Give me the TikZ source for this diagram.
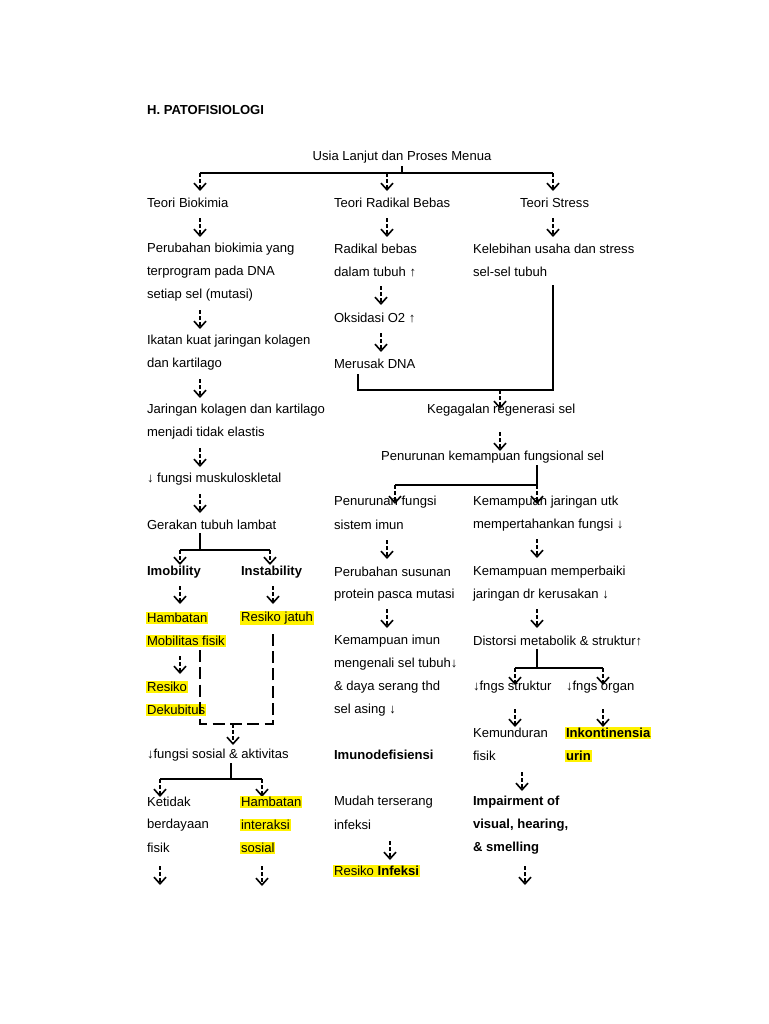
\documentclass[tikz,border=0pt]{standalone}
\usepackage{fontspec}
\setmainfont{Liberation Sans}
\usetikzlibrary{arrows.meta}
\begin{document}
\begin{tikzpicture}[x=0.75pt,y=-0.75pt,
  t/.style={anchor=west,inner sep=0.6pt,font=\fontsize{9.8}{12}\selectfont},
  hl/.style={t,fill=yellow},
  b/.style={t,font=\fontsize{9.8}{12}\selectfont\bfseries},
  bhl/.style={b,fill=yellow},
  ln/.style={line width=1.6pt},
  dl/.style={line width=1.6pt,dash pattern=on 9pt off 4pt},
  ar/.style={line width=1.6pt,dash pattern=on 3pt off 1.5pt,-{Straight Barb[length=5pt,width=9pt,line width=1.2pt]}}]
\useasboundingbox (0,0) rectangle (768,1024);
\fill[white] (0,0) rectangle (768,1024);
\newcommand\arr[4]{\coordinate (#1a) at (#2,#3); \coordinate (#1b) at (#2,#4); \draw[ar] (#1a) -- (#1b);}
\node[b] (h) at (146,110) {H. PATOFISIOLOGI};
\node[t,anchor=center] (usia) at (402,157) {Usia Lanjut dan Proses Menua};
\coordinate (u0) at (402,166); \coordinate (u1) at (402,173);
\coordinate (ul) at (200,173); \coordinate (ur) at (553,173);
\draw[ln] (u0)--(u1); \draw[ln] (ul)--(ur);
\arr{a1}{200}{173}{191} \arr{a2}{387}{173}{191} \arr{a3}{553}{173}{191}
\node[t] (tb) at (146,203) {Teori Biokimia};
\node[t] (tr) at (333,203) {Teori Radikal Bebas};
\node[t] (ts) at (519,203) {Teori Stress};
\arr{a4}{200}{218}{237} \arr{a5}{387}{218}{237} \arr{a6}{553}{218}{237}
% column 1
\node[t] (c1a) at (146,249) {Perubahan biokimia yang};
\node[t] (c1b) at (146,272) {terprogram pada DNA};
\node[t] (c1c) at (146,295) {setiap sel (mutasi)};
\arr{a7}{200}{310}{329}
\node[t] (c1d) at (146,341) {Ikatan kuat jaringan kolagen};
\node[t] (c1e) at (146,364) {dan kartilago};
\arr{a8}{200}{379}{398}
\node[t] (c1f) at (146,410) {Jaringan kolagen dan kartilago};
\node[t] (c1g) at (146,433) {menjadi tidak elastis};
\arr{a9}{200}{448}{467}
\node[t] (c1h) at (146,479) {↓ fungsi muskuloskletal};
\arr{a10}{200}{494}{513}
\node[t] (c1i) at (146,525) {Gerakan tubuh lambat};
\coordinate (g0) at (200,533); \coordinate (g1) at (200,550);
\coordinate (gl) at (180,550); \coordinate (gr) at (270,550);
\draw[ln] (g0)--(g1); \draw[ln] (gl)--(gr);
\arr{a11}{180}{550}{565} \arr{a12}{270}{550}{565}
\node[b] (imo) at (146,572) {Imobility};
\node[b] (ins) at (240,572) {Instability};
\arr{a13}{180}{586}{604} \arr{a14}{273}{586}{604}
\node[hl] (hm1) at (146,618) {Hambatan};
\node[hl] (hm2) at (146,641) {Mobilitas fisik};
\node[hl] (rj) at (240,618) {Resiko jatuh};
\arr{a15}{180}{656}{674}
\node[hl] (rd1) at (146,687) {Resiko};
\node[hl] (rd2) at (146,710) {Dekubitus};
\coordinate (d1) at (200,650); \coordinate (d2) at (200,724);
\coordinate (d3) at (273,724); \coordinate (d4) at (273,633);
\draw[dl] (d1)--(d2)--(d3)--(d4);
\arr{a16}{233}{724}{745}
\node[t] (fs) at (146,755) {↓fungsi sosial \& aktivitas};
\coordinate (f0) at (231,763); \coordinate (f1) at (231,779);
\coordinate (fl) at (160,779); \coordinate (fr) at (262,779);
\draw[ln] (f0)--(f1); \draw[ln] (fl)--(fr);
\arr{a17}{160}{779}{797} \arr{a18}{262}{779}{797}
\node[t] (k1) at (146,802) {Ketidak};
\node[t] (k2) at (146,825) {berdayaan};
\node[t] (k3) at (146,848) {fisik};
\node[hl] (hi1) at (240,802) {Hambatan};
\node[hl] (hi2) at (240,825) {interaksi};
\node[hl] (hi3) at (240,848) {sosial};
\arr{a19}{160}{866}{885} \arr{a20}{262}{866}{886}
% column 2
\node[t] (c2a) at (333,249) {Radikal bebas};
\node[t] (c2b) at (333,272) {dalam tubuh ↑};
\arr{a21}{381}{286}{305}
\node[t] (c2c) at (333,318) {Oksidasi O2 ↑};
\arr{a22}{381}{333}{352}
\node[t] (c2d) at (333,364) {Merusak DNA};
\coordinate (m0) at (358,374); \coordinate (m1) at (358,390);
\coordinate (m2) at (553,390); \coordinate (m3) at (553,285);
\draw[ln] (m0)--(m1)--(m2)--(m3);
\arr{a23}{500}{390}{409}
\node[t] (kg) at (426,410) {Kegagalan regenerasi sel};
\arr{a24}{500}{432}{451}
\node[t] (pk) at (380,457) {Penurunan kemampuan fungsional sel};
\coordinate (p0) at (537,465); \coordinate (p1) at (537,485);
\coordinate (pl) at (395,485);
\draw[ln] (p0)--(p1)--(pl);
\arr{a25}{395}{485}{504} \arr{a26}{537}{485}{504}
\node[t] (c2e) at (333,502) {Penurunan fungsi};
\node[t] (c2f) at (333,525) {sistem imun};
\arr{a27}{387}{540}{559}
\node[t] (c2g) at (333,572) {Perubahan susunan};
\node[t] (c2h) at (333,595) {protein pasca mutasi};
\arr{a28}{387}{609}{628}
\node[t] (c2i) at (333,641) {Kemampuan imun};
\node[t] (c2j) at (333,664) {mengenali sel tubuh↓};
\node[t] (c2k) at (333,687) {\& daya serang thd};
\node[t] (c2l) at (333,710) {sel asing ↓};
\node[b] (imu) at (333,755) {Imunodefisiensi};
\node[t] (c2m) at (333,802) {Mudah terserang};
\node[t] (c2n) at (333,825) {infeksi};
\arr{a29}{390}{841}{860}
\node[hl] (ri) at (333,871) {Resiko \textbf{Infeksi}};
% column 3
\node[t] (c3a) at (472,249) {Kelebihan usaha dan stress};
\node[t] (c3b) at (472,272) {sel-sel tubuh};
\node[t] (c3c) at (472,502) {Kemampuan jaringan utk};
\node[t] (c3d) at (472,525) {mempertahankan fungsi ↓};
\arr{a30}{537}{539}{558}
\node[t] (c3e) at (472,572) {Kemampuan memperbaiki};
\node[t] (c3f) at (472,595) {jaringan dr kerusakan ↓};
\arr{a31}{537}{609}{628}
\node[t] (c3g) at (472,641) {Distorsi metabolik \& struktur↑};
\coordinate (s0) at (537,649); \coordinate (s1) at (537,668);
\coordinate (sl) at (515,668); \coordinate (sr) at (603,668);
\draw[ln] (s0)--(s1); \draw[ln] (sl)--(sr);
\arr{a32}{515}{668}{685} \arr{a33}{603}{668}{685}
\node[t] (fst) at (472,687) {↓fngs struktur};
\node[t] (fo) at (565,687) {↓fngs organ};
\arr{a34}{515}{709}{727} \arr{a35}{603}{709}{727}
\node[t] (km1) at (472,733) {Kemunduran};
\node[t] (km2) at (472,756) {fisik};
\node[bhl] (in1) at (565,733) {Inkontinensia};
\node[bhl] (in2) at (565,756) {urin};
\arr{a36}{522}{772}{791}
\node[b] (im1) at (472,802) {Impairment of};
\node[b] (im2) at (472,825) {visual, hearing,};
\node[b] (im3) at (472,848) {\& smelling};
\arr{a37}{525}{866}{885}
\end{tikzpicture}
\end{document}
